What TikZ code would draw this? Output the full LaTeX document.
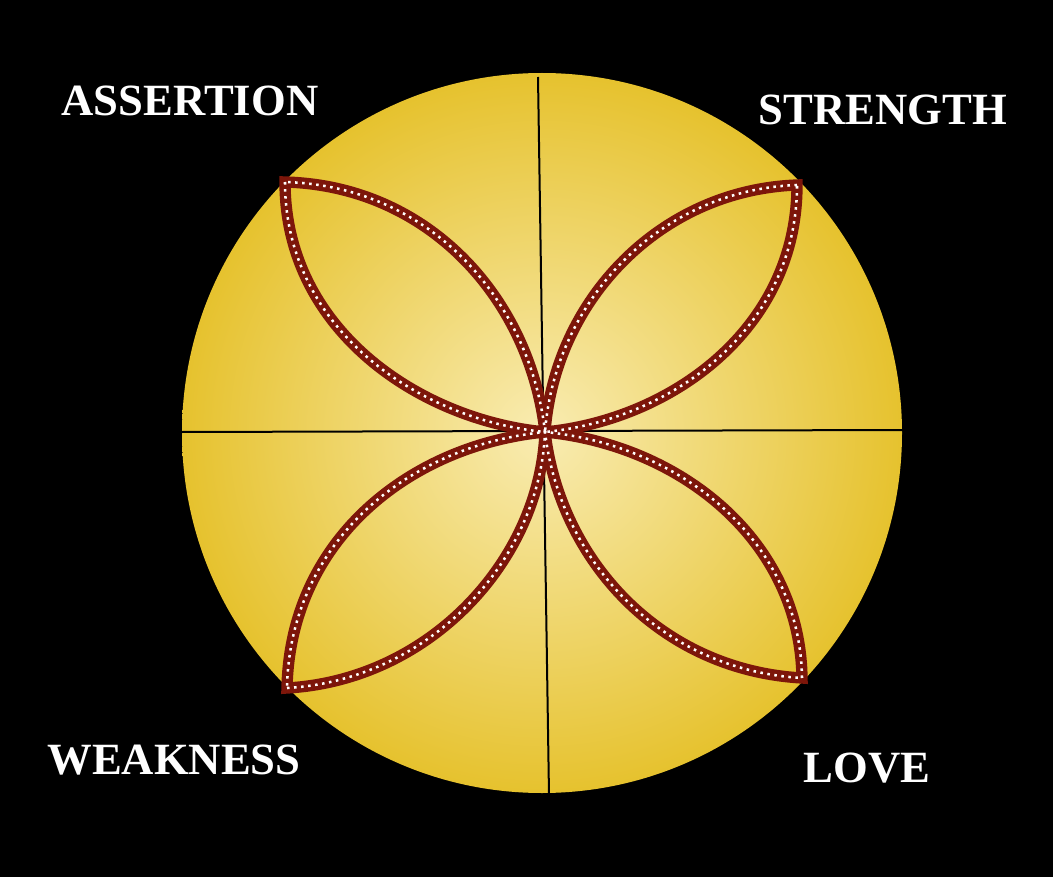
\documentclass[tikz,border=0pt]{standalone}
\usepackage{fontspec}
\setmainfont{Liberation Serif}
\definecolor{petal}{RGB}{125,22,10}
\begin{document}
\begin{tikzpicture}[x=0.75pt,y=-0.75pt,
  lbl/.style={text=white,font=\fontsize{33.5}{36}\selectfont\bfseries,inner sep=0},
  petalred/.style={draw=petal,line width=8.5pt,line join=miter},
  petaldots/.style={draw=white,line width=1.9pt,dash pattern=on 1.9pt off 3.4pt}]
\fill[black] (0,0) rectangle (1053,877);
\useasboundingbox (0,0) rectangle (1053,877);
\node[circle,minimum size=720*0.75pt,inner sep=0,inner color={rgb,255:red,249;green,236;blue,178},outer color={rgb,255:red,230;green,194;blue,46},shading=radial] (disc) at (542,433) {};
\coordinate (c) at (545,432);
\coordinate (vt) at (538,77); \coordinate (vb) at (549,795);
\coordinate (hl) at (182,432); \coordinate (hr) at (902,430);
\draw[line width=1.5pt] (vt) -- (vb);
\draw[line width=1.5pt] (hl) -- (hr);
\coordinate (tl) at (285,182); \coordinate (tr) at (797,185);
\coordinate (br) at (802,678); \coordinate (bl) at (287,688);
\foreach \s in {petalred,petaldots}{
\draw[\s] (tl) .. controls (285,330) and (420,420) .. (c) .. controls (530,300) and (430,186) .. cycle;
\draw[\s] (tr) .. controls (660,190) and (555,300) .. (c) .. controls (670,420) and (797,330) .. cycle;
\draw[\s] (br) .. controls (800,540) and (680,445) .. (c) .. controls (560,560) and (660,670) .. cycle;
\draw[\s] (bl) .. controls (430,680) and (540,560) .. (c) .. controls (410,445) and (290,540) .. cycle;
}
\node[lbl] (assertion) at (190,101) {ASSERTION};
\node[lbl] (strength) at (883,110) {STRENGTH};
\node[lbl] (weakness) at (174,760) {WEAKNESS};
\node[lbl] (love) at (867,768) {LOVE};
\end{tikzpicture}
\end{document}
